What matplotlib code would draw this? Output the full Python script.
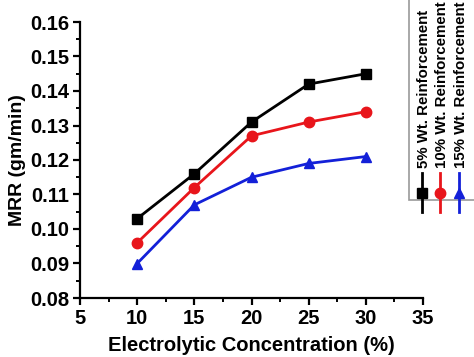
import matplotlib
matplotlib.use('Agg')
import matplotlib.pyplot as plt
from matplotlib.ticker import MultipleLocator
from matplotlib.lines import Line2D
from matplotlib.patches import Rectangle

plt.rcParams['font.family'] = ['Liberation Sans', 'DejaVu Sans']
plt.rcParams['font.weight'] = 'bold'

# ── data ──────────────────────────────────────────────────────────────────
conc = [10, 15, 20, 25, 30]
mrr_5 = [0.103, 0.116, 0.131, 0.142, 0.145]
mrr_10 = [0.096, 0.112, 0.127, 0.131, 0.134]
mrr_15 = [0.090, 0.107, 0.115, 0.119, 0.121]
labels = ['5% Wt. Reinforcement', '10% Wt. Reinforcement', '15% Wt. Reinforcement']

series = [(mrr_5, 'black', 's'), (mrr_10, '#e8151b', 'o'), (mrr_15, '#1320d8', '^')]

# ── plot ──────────────────────────────────────────────────────────────────
fig = plt.figure(figsize=(4.74, 3.57), dpi=100)
ax = fig.add_axes([80/474, 1-298/357, (423-80)/474, (298-22)/357])

for vals, c, m in series:
    ax.plot(conc, vals, color=c, marker=m, markersize=7.5, linewidth=2)

ax.set_xlim(5, 35)
ax.set_ylim(0.08, 0.16)
ax.xaxis.set_major_locator(MultipleLocator(5))
ax.xaxis.set_minor_locator(MultipleLocator(2.5))
ax.yaxis.set_major_locator(MultipleLocator(0.01))
ax.yaxis.set_minor_locator(MultipleLocator(0.005))
ax.yaxis.set_major_formatter(plt.FormatStrFormatter('%.2f'))
for s in ['top', 'right']:
    ax.spines[s].set_visible(False)
for s in ['left', 'bottom']:
    ax.spines[s].set_linewidth(1.6)
ax.tick_params(which='major', length=5, width=1.6, labelsize=14.5, pad=3)
ax.tick_params(which='minor', length=3, width=1.4)
ax.set_xlabel('Electrolytic Concentration (%)', fontsize=14.5, fontweight='bold', labelpad=6)
ax.set_ylabel('MRR (gm/min)', fontsize=14, fontweight='bold', labelpad=3)

# ── rotated legend ───────────────────────────────────────────────────────
lax = fig.add_axes([0, 0, 1, 1], facecolor='none')
lax.set_xlim(0, 474)
lax.set_ylim(357, 0)
lax.axis('off')
lax.add_patch(Rectangle((409, -5), 80, 205, fill=False, edgecolor='#999999', linewidth=1.2))
xs = [422, 440, 459]
for (vals, c, m), x, lab in zip(series, xs, labels):
    lax.add_line(Line2D([x, x], [173, 212], color=c, linewidth=2))
    lax.add_line(Line2D([x], [193], color=c, marker=m, markersize=7.5))
    lax.text(x + 2, 168, lab, rotation=90, ha='center', va='bottom',
             fontsize=10.8, fontweight='bold')

fig.savefig('out.png', dpi=100)
